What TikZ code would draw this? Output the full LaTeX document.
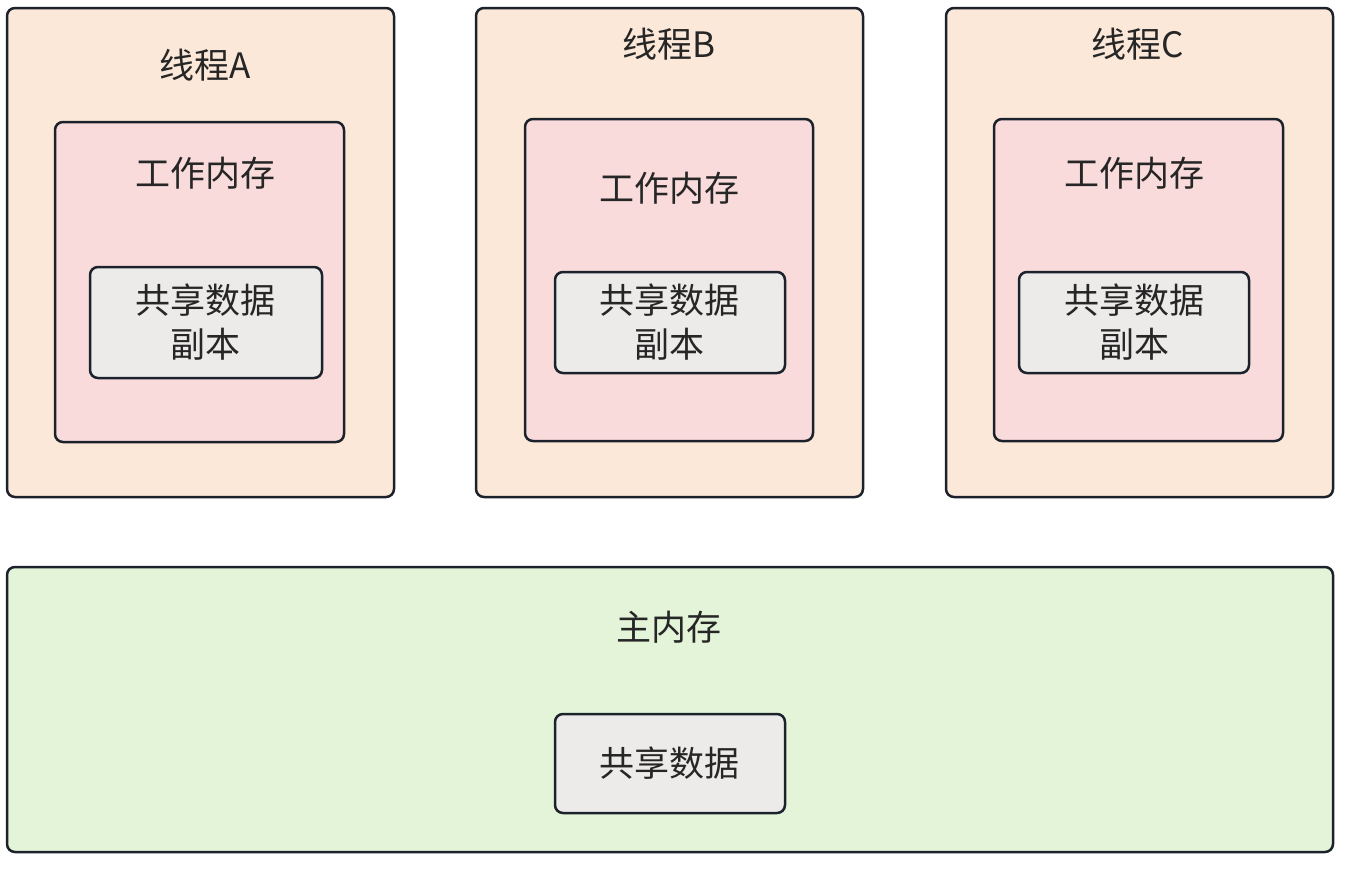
\documentclass[tikz,border=0pt]{standalone}
\usepackage{fontspec}
\setmainfont{Noto Sans CJK SC}
\definecolor{outerc}{HTML}{FBE8D8}
\definecolor{innerc}{HTML}{F9DBDB}
\definecolor{copyc}{HTML}{EDEBEA}
\definecolor{mainc}{HTML}{E3F4D8}
\definecolor{edgec}{HTML}{1C222C}
\begin{document}
\begin{tikzpicture}[x=1pt,y=-1pt,
  box/.style={draw=edgec,line width=2.5pt,rounded corners=8pt},
  lbl/.style={font=\fontsize{35}{44}\selectfont,text=black!85,align=center}]
\useasboundingbox (0,0) rectangle (1350,870);
% thread A
\draw[box,fill=outerc] (7,8) rectangle (394,497);
\draw[box,fill=innerc] (55,122) rectangle (344,442);
\draw[box,fill=copyc] (90,267) rectangle (322,378);
\node[lbl] (ta) at (205,65) {线程A};
\node[lbl] (wa) at (205,173) {工作内存};
\node[lbl] (ca) at (205,322) {共享数据\\副本};
% thread B
\draw[box,fill=outerc] (476,8) rectangle (863,497);
\draw[box,fill=innerc] (525,119) rectangle (813,441);
\draw[box,fill=copyc] (555,272) rectangle (785,373);
\node[lbl] (tb) at (669,44) {线程B};
\node[lbl] (wb) at (669,188) {工作内存};
\node[lbl] (cb) at (669,322) {共享数据\\副本};
% thread C
\draw[box,fill=outerc] (946,8) rectangle (1333,497);
\draw[box,fill=innerc] (994,119) rectangle (1283,441);
\draw[box,fill=copyc] (1019,272) rectangle (1249,373);
\node[lbl] (tc) at (1138,44) {线程C};
\node[lbl] (wc) at (1134,173) {工作内存};
\node[lbl] (cc) at (1134,322) {共享数据\\副本};
% main memory
\draw[box,fill=mainc] (7,567) rectangle (1333,852);
\draw[box,fill=copyc] (555,714) rectangle (785,813);
\node[lbl] (mm) at (669,627) {主内存};
\node[lbl] (sd) at (669,763) {共享数据};
\end{tikzpicture}
\end{document}
